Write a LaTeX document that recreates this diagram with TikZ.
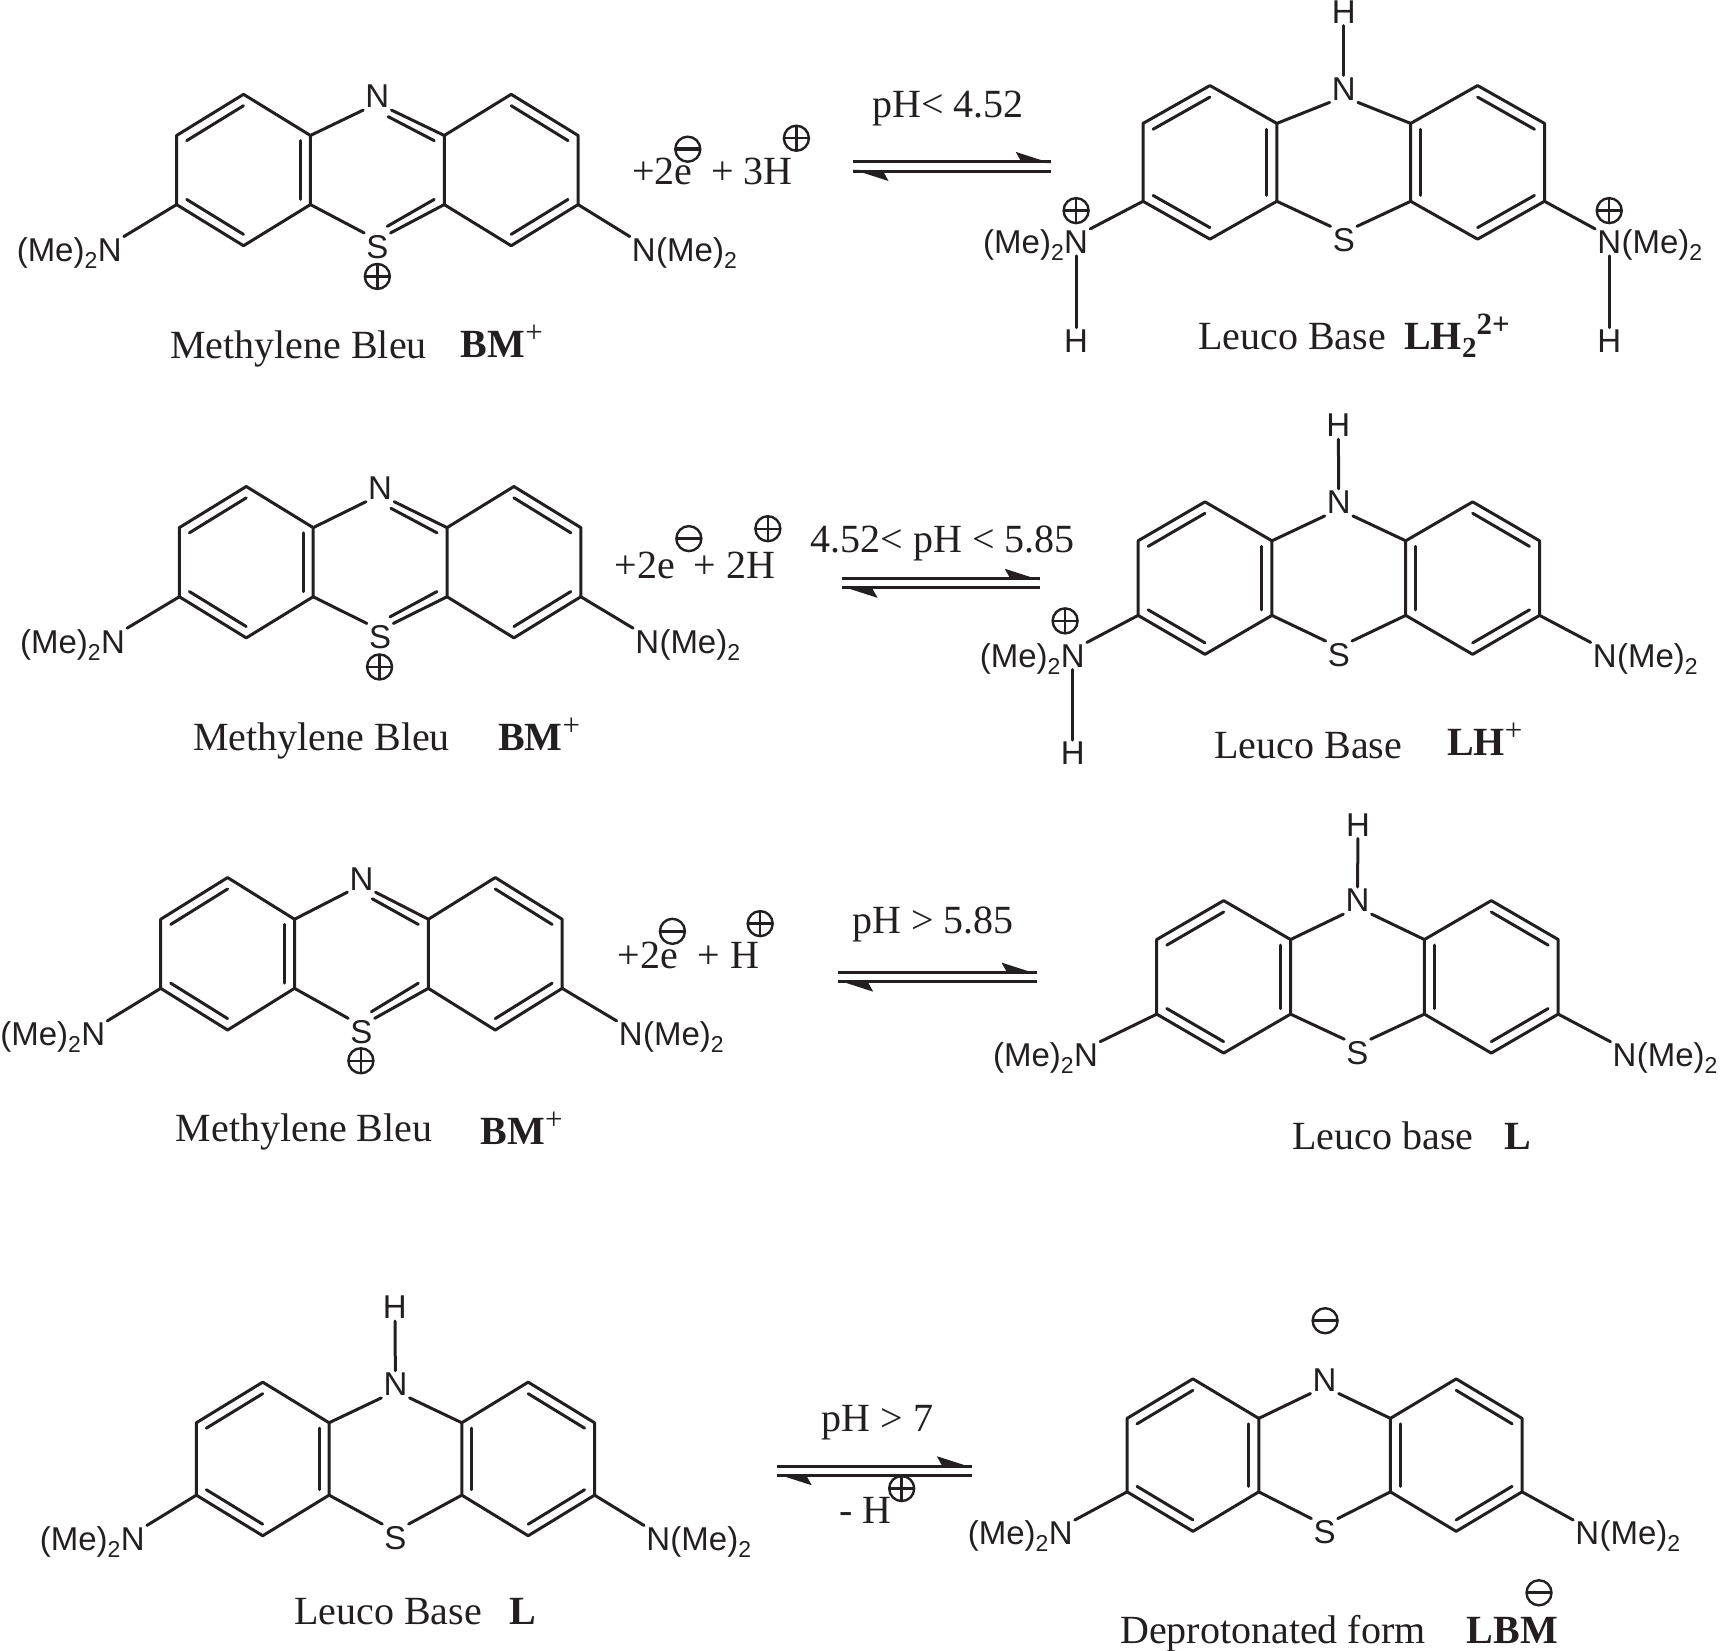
\documentclass[tikz,border=0pt]{standalone}
\usepackage{fontspec}
\setmainfont{Liberation Serif}
\newfontfamily\atomfont{Liberation Sans}
\usetikzlibrary{calc}
\definecolor{ink}{HTML}{231F20}
\newcommand{\asub}[1]{\raisebox{-7pt}{\fontsize{23}{24}\selectfont #1}}
\newcommand{\capsup}[1]{\raisebox{15pt}{\fontsize{31}{32}\selectfont #1}}
\newcommand{\capsub}[1]{\raisebox{-8pt}{\fontsize{29}{30}\selectfont #1}}
\tikzset{
  bond/.style={line width=3pt,line cap=round,line join=round,draw=ink},
  atom/.style={font=\atomfont\fontsize{33}{36}\selectfont,text=ink,inner sep=2pt},
  atomtail/.style={font=\atomfont\fontsize{33}{36}\selectfont,text=ink,inner sep=0pt},
  lab/.style={font=\fontsize{40}{43}\selectfont,text=ink,inner sep=0pt,anchor=base west},
  pluscharge/.style={circle,draw=ink,line width=2.4pt,minimum size=25pt,inner sep=0pt,
    path picture={\draw[ink,line width=2.4pt] (path picture bounding box.north) -- (path picture bounding box.south)
      (path picture bounding box.west) -- (path picture bounding box.east);}},
  minuscharge/.style={circle,draw=ink,line width=2.4pt,minimum size=25pt,inner sep=0pt,
    path picture={\draw[ink,line width=3.4pt] (path picture bounding box.west) -- (path picture bounding box.east);}},
  eqline/.style={line width=3pt,draw=ink},
}
% ring skeleton, with N and S
\newcommand{\molbase}[8]{%
  \coordinate (#1lc) at (#2-2*#4,#3);
  \coordinate (#1rc) at (#2+2*#4,#3);
  \coordinate (#1cc) at (#2,#3);
  \coordinate (#1a) at (#2-2*#4,#3-#6);
  \coordinate (#1b) at (#2-3*#4,#3-#5);
  \coordinate (#1c) at (#2-3*#4,#3+#5);
  \coordinate (#1d) at (#2-2*#4,#3+#6);
  \coordinate (#1e) at (#2-#4,#3+#5);
  \coordinate (#1f) at (#2-#4,#3-#5);
  \coordinate (#1g) at (#2+#4,#3-#5);
  \coordinate (#1h) at (#2+2*#4,#3-#6);
  \coordinate (#1i) at (#2+3*#4,#3-#5);
  \coordinate (#1j) at (#2+3*#4,#3+#5);
  \coordinate (#1k) at (#2+2*#4,#3+#6);
  \coordinate (#1l) at (#2+#4,#3+#5);
  \node[atom] (#1N) at (#2,#7) {N};
  \node[atom] (#1S) at (#2,#8) {S};
  \draw[bond] (#1f)--(#1a)--(#1b)--(#1c)--(#1d)--(#1e)--cycle;
  \draw[bond] (#1g)--(#1h)--(#1i)--(#1j)--(#1k)--(#1l)--cycle;
  \draw[bond] ($(#1a)!.15!(#1lc)$)--($(#1b)!.15!(#1lc)$);
  \draw[bond] ($(#1f)!.15!(#1lc)$)--($(#1e)!.15!(#1lc)$);
  \draw[bond] ($(#1c)!.15!(#1lc)$)--($(#1d)!.15!(#1lc)$);
  \draw[bond] ($(#1h)!.15!(#1rc)$)--($(#1i)!.15!(#1rc)$);
  \draw[bond] ($(#1j)!.15!(#1rc)$)--($(#1k)!.15!(#1rc)$);
  \draw[bond] (#1f)--(#1N.south west);
  \draw[bond] (#1e)--(#1S.north west);
  \draw[bond] (#1g)--(#1N.south east);
  \draw[bond] (#1l)--(#1S.north east);
}
\newcommand{\oxid}[1]{%
  \draw[bond] ($(#1N.south east)+(-3,6)$)--($(#1g)!.15!(#1cc)$);
  \draw[bond] ($(#1S.north east)+(-3,-6)$)--($(#1l)!.15!(#1cc)$);
}
\newcommand{\redu}[1]{%
  \draw[bond] ($(#1g)!.15!(#1rc)$)--($(#1l)!.15!(#1rc)$);
}
\newcommand{\leftN}[3]{%
  \node[atom] (#1LN) at (#2,#3) {N};
  \node[atomtail,anchor=base east,xshift=2pt] (#1LM) at (#1LN.base west) {(Me)\asub{2}};
  \draw[bond] (#1c)--(#1LN.north east);
}
\newcommand{\rightN}[3]{%
  \node[atom] (#1RN) at (#2,#3) {N};
  \node[atomtail,anchor=base west,xshift=-2pt] (#1RM) at (#1RN.base east) {(Me)\asub{2}};
  \draw[bond] (#1j)--(#1RN.north west);
}
\newcommand{\equil}[4]{% name, x1, x2, y of upper line
  \coordinate (#1u1) at (#2,#4);
  \coordinate (#1u2) at (#3,#4);
  \coordinate (#1l1) at (#2,#4+8.5);
  \coordinate (#1l2) at (#3,#4+8.5);
  \draw[eqline] (#1u1)--(#1u2);
  \draw[eqline] (#1l1)--(#1l2);
  \fill[ink] ($(#1u2)+(0,1.3)$)--($(#1u2)+(-32,-9)$)--($(#1u2)+(-27,0)$)--cycle;
  \fill[ink] ($(#1l1)+(0,-1.3)$)--($(#1l1)+(32,9)$)--($(#1l1)+(27,0)$)--cycle;
}
\begin{document}
\begin{tikzpicture}[x=1.09694pt,y=-1.09694pt]
\useasboundingbox (0,0) rectangle (1568,1505);
% --- row 1 left
\molbase{A}{344}{155}{61}{31.5}{69}{88}{225}
\oxid{A}
\leftN{A}{100}{228}
\rightN{A}{587}{228}
\node[pluscharge] (Ap) at (344,252) {};
\node[lab] (Ac1) at (155,327) {Methylene Bleu};
\node[lab] (Ac2) at (420,326) {\textbf{BM}\capsup{+}};
\node[lab] (r1a) at (576,168) {+2e};
\node[minuscharge] (r1m) at (627,136) {};
\node[lab] (r1b) at (648,168) {+ 3H};
\node[pluscharge] (r1p) at (726,126) {};
\node[lab] (r1c) at (795,107) {pH< 4.52};
\equil{E1}{778}{958}{147.5}
% --- row 1 right
\molbase{B}{1225}{148}{61}{35.5}{70}{81}{219}
\redu{B}
\node[atom] (BH) at (1225,11) {H};
\draw[bond] (BN)--(BH);
\leftN{B}{981}{221}
\rightN{B}{1467}{221}
\node[pluscharge] (Bp1) at (981,192) {};
\node[pluscharge] (Bp2) at (1467,192) {};
\node[atom] (BH1) at (981,311) {H};
\node[atom] (BH2) at (1467,311) {H};
\draw[bond] (BLN)--(BH1);
\draw[bond] (BRN)--(BH2);
\node[lab] (Bc1) at (1092,319) {Leuco Base};
\node[lab] (Bc2) at (1280,319) {\textbf{LH\capsub{2}\capsup{2+}}};
% --- row 2 left
\molbase{C}{346.5}{512.5}{61}{31.5}{69}{445}{581}
\oxid{C}
\leftN{C}{103}{585}
\rightN{C}{590}{585}
\node[pluscharge] (Cp) at (346,608) {};
\node[lab] (Cc1) at (176,684) {Methylene Bleu};
\node[lab] (Cc2) at (454,684) {\textbf{BM}\capsup{+}};
\node[lab] (r2a) at (560,527) {+2e};
\node[minuscharge] (r2m) at (628,491) {};
\node[lab] (r2b) at (632,527) {+ 2H};
\node[pluscharge] (r2p) at (700,482) {};
\node[lab] (r2c) at (739,504) {4.52< pH < 5.85};
\equil{E2}{768}{948}{527.5}
% --- row 2 right
\molbase{D}{1220.5}{527}{61}{34}{69.5}{458}{597}
\redu{D}
\node[atom] (DH) at (1220,388) {H};
\draw[bond] (DN)--(DH);
\leftN{D}{978}{598}
\rightN{D}{1463}{598}
\node[pluscharge] (Dp) at (971,566) {};
\node[atom] (DH1) at (978,687) {H};
\draw[bond] (DLN)--(DH1);
\node[lab] (Dc1) at (1107,691) {Leuco Base};
\node[lab] (Dc2) at (1319,689) {\textbf{LH}\capsup{+}};
% --- row 3 left
\molbase{E}{329.5}{869.5}{61}{31.5}{69.5}{801}{941}
\oxid{E}
\leftN{E}{85}{943}
\rightN{E}{575}{943}
\node[pluscharge] (Ep) at (329,967) {};
\node[lab] (Ec1) at (160,1041) {Methylene Bleu};
\node[lab] (Ec2) at (438,1043) {\textbf{BM}\capsup{+}};
\node[lab] (r3a) at (563,883) {+2e};
\node[minuscharge] (r3m) at (613,849) {};
\node[lab] (r3b) at (636,883) {+ H};
\node[pluscharge] (r3p) at (693,842) {};
\node[lab] (r3c) at (777,851) {pH > 5.85};
\equil{E3}{764}{945}{886.5}
% --- row 3 right
\molbase{F}{1237.5}{890.5}{61}{34}{69.5}{821}{960}
\redu{F}
\node[atom] (FH) at (1238,752) {H};
\draw[bond] (FN)--(FH);
\leftN{F}{990}{962}
\rightN{F}{1481}{962}
\node[lab] (Fc1) at (1178,1048) {Leuco base};
\node[lab] (Fc2) at (1371,1048) {\textbf{L}};
% --- row 4 left
\molbase{G}{360.5}{1330}{60.5}{33}{70}{1262}{1402}
\redu{G}
\node[atom] (GH) at (360,1192) {H};
\draw[bond] (GN)--(GH);
\leftN{G}{121}{1403}
\rightN{G}{600}{1403}
\node[lab] (Gc1) at (268,1481) {Leuco Base};
\node[lab] (Gc2) at (464,1481) {\textbf{L}};
\node[lab] (r4c) at (749,1305) {pH > 7};
\equil{E4}{708}{886}{1336.5}
\node[lab] (r4d) at (765,1389) {- H};
\node[pluscharge] (r4p) at (822,1357) {};
% --- row 4 right
\molbase{H}{1207.5}{1326.5}{60}{33.5}{69.5}{1258}{1397}
\redu{H}
\node[minuscharge] (Hm) at (1208,1204) {};
\leftN{H}{967}{1398}
\rightN{H}{1447}{1398}
\node[lab] (Hc1) at (1021,1498) {Deprotonated form};
\node[lab] (Hc2) at (1337,1498) {\textbf{LBM}};
\node[minuscharge] (Hm2) at (1403,1452) {};
\end{tikzpicture}
\end{document}
